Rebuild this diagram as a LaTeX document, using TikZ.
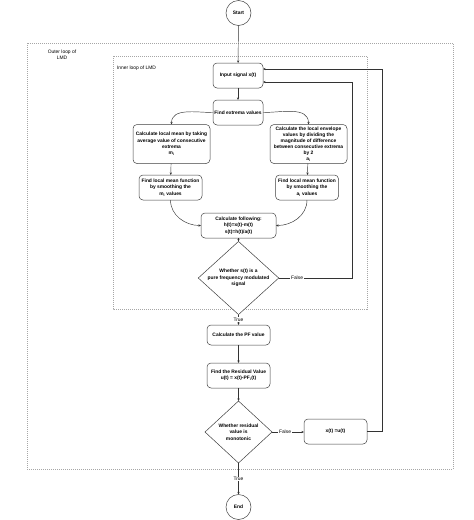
\documentclass[tikz,border=0pt]{standalone}
\usepackage{fontspec}
\setmainfont{Liberation Sans}
\usetikzlibrary{shapes.geometric,arrows.meta}
\begin{document}
\begin{tikzpicture}[x=1pt,y=-1pt,
  every node/.style={inner sep=0pt,outer sep=0pt},
  txt/.style={font=\fontsize{4.9}{6.3}\selectfont\bfseries,align=center},
  lbl/.style={font=\fontsize{4.9}{6.3}\selectfont,align=center},
  proc/.style={draw=black!75,line width=0.5pt,rounded corners=4pt,fill=white,txt},
  dec/.style={draw=black!75,line width=0.5pt,diamond,fill=white,txt},
  term/.style={draw=black!75,line width=0.5pt,circle,minimum size=25pt,fill=white,txt},
  region/.style={draw=black!35,line width=0.5pt,dash pattern=on 1pt off 1pt},
  conn/.style={draw=black!80,line width=0.45pt,-{Stealth[length=2.6pt,width=2.2pt]}},
  tag/.style={lbl,fill=white,inner sep=0.6pt}]
\useasboundingbox (0,0) rectangle (474,520);
\fill[white] (0,0) rectangle (474,520);
% regions
\draw[region] (27,43) rectangle (453,469);
\draw[region] (113,56) rectangle (367,309);
\node[lbl] (outerlbl) at (62,54.5) {Outer loop of\\LMD};
\node[lbl,anchor=west] (innerlbl) at (117,68) {Inner loop of LMD};
% nodes
\node[term] (start) at (238.5,13) {Start};
\node[proc,minimum width=50pt,minimum height=25pt] (input) at (238,75.5) {Input signal x(t)};
\node[proc,minimum width=50pt,minimum height=25pt] (ext) at (238,112.5) {Find extrema values};
\node[proc,minimum width=77pt,minimum height=39pt] (lmean) at (171.5,144) {Calculate local mean by taking\\average value of consecutive\\extrema\\m\textsubscript{i}};
\node[proc,minimum width=77pt,minimum height=39pt,font=\fontsize{4.9}{5.9}\selectfont\bfseries] (renv) at (308.5,144) {Calculate the local envelope\\values by dividing the\\magnitude of difference\\between consecutive extrema\\by 2\\a\textsubscript{i}};
\node[proc,minimum width=63pt,minimum height=25pt] (lfind) at (170.5,187.5) {Find local mean function\\by smoothing the\\m\textsubscript{i} values};
\node[proc,minimum width=63pt,minimum height=25pt] (rfind) at (307,187.5) {Find local mean function\\by smoothing the\\a\textsubscript{i} values};
\node[proc,minimum width=75pt,minimum height=25pt] (calc) at (238.5,225.5) {Calculate following:\\h(t)=x(t)-m(t)\\s(t)=h(t)/a(t)};
\node[dec,minimum width=69pt,minimum height=62pt,aspect=1.1] (d1) at (238.5,278) {Whether s(t) is a\\pure frequency modulated\\signal};
\node[proc,minimum width=63pt,minimum height=20pt] (pf) at (238.5,335) {Calculate the PF value};
\node[proc,minimum width=63pt,minimum height=25pt] (res) at (238.5,375.5) {Find the Residual Value\\u(t) = x(t)-PF\textsubscript{i}(t)};
\node[dec,minimum width=67pt,minimum height=62pt,aspect=1.08] (d2) at (238.5,432) {Whether residual\\value is\\monotonic};
\node[proc,minimum width=63pt,minimum height=25pt] (xbox) at (335.5,431.5) {x(t) =u(t)};
\node[term] (end) at (238.5,507) {End};
\coordinate (innerret) at (352,278);
\coordinate (innertop) at (352,82);
\coordinate (outerret) at (382,431.5);
\coordinate (outertop) at (382,69);
% connectors
\draw[conn] (start) -- (input);
\draw[conn] (input) -- (ext);
\draw[conn] (ext.west) to[out=180,in=90] (lmean.north);
\draw[conn] (ext.east) to[out=0,in=90] (renv.north);
\draw[conn] (lmean) -- (lfind);
\draw[conn] (renv) -- (rfind);
\draw[conn] (lfind.south) to[out=-90,in=180] (calc.west);
\draw[conn] (rfind.south) to[out=-90,in=0] (calc.east);
\draw[conn] (calc) -- (d1);
\draw[conn] (d1.east) -- (innerret) -- (innertop) -- (input.east |- innertop);
\node[tag] (f1) at (297,277.5) {False};
\draw[conn] (d1.south) -- (pf);
\node[tag] (t1) at (238.5,319.5) {True};
\draw[conn] (pf) -- (res);
\draw[conn] (res) -- (d2);
\draw[conn] (d2.east) -- (xbox.west |- d2.east);
\node[tag] (f2) at (285,432) {False};
\draw[conn] (xbox.east) -- (outerret) -- (outertop) -- (input.east |- outertop);
\draw[conn] (d2.south) -- (end);
\node[tag] (t2) at (238.5,479) {True};
\end{tikzpicture}
\end{document}
